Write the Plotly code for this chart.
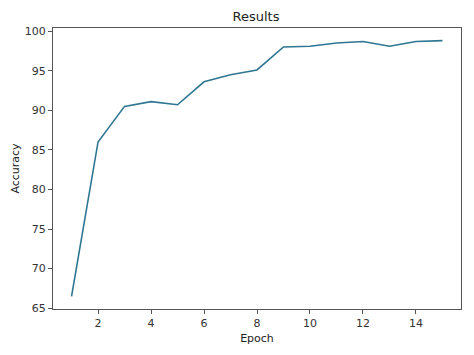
import plotly.graph_objects as go

epochs = list(range(1, 16))
accuracy = [66.5, 86.0, 90.5, 91.1, 90.7, 93.6, 94.5, 95.1, 98.0, 98.1, 98.5, 98.7, 98.1, 98.7, 98.8]
x_ticks = [2, 4, 6, 8, 10, 12, 14]
y_ticks = [65, 70, 75, 80, 85, 90, 95, 100]

fig = go.Figure()
fig.add_trace(go.Scatter(x=epochs, y=accuracy, mode="lines",
                         line=dict(color="#2f7692", width=1.6)))

axis_common = dict(showgrid=False, zeroline=False, showline=True, linecolor="#555555",
                   linewidth=1, mirror=True, ticks="outside", ticklen=4, tickcolor="#555555",
                   tickfont=dict(family="DejaVu Sans", size=11, color="#333333"))
fig.update_layout(
    width=474, height=355,
    margin=dict(l=53, r=13, t=28, b=43),
    paper_bgcolor="white", plot_bgcolor="white",
    showlegend=False,
    title=dict(text="Results", x=0.54, xanchor="center", y=0.955, yanchor="middle",
               font=dict(family="DejaVu Sans", size=13, color="#222222")),
    xaxis=dict(range=[0.3, 15.7], tickvals=x_ticks,
               title=dict(text="Epoch", standoff=5,
                          font=dict(family="DejaVu Sans", size=11, color="#222222")),
               **axis_common),
    yaxis=dict(range=[64.9, 100.4], tickvals=y_ticks,
               title=dict(text="Accuracy", standoff=2,
                          font=dict(family="DejaVu Sans", size=11, color="#222222")),
               **axis_common),
)
fig.write_html("out.html")
